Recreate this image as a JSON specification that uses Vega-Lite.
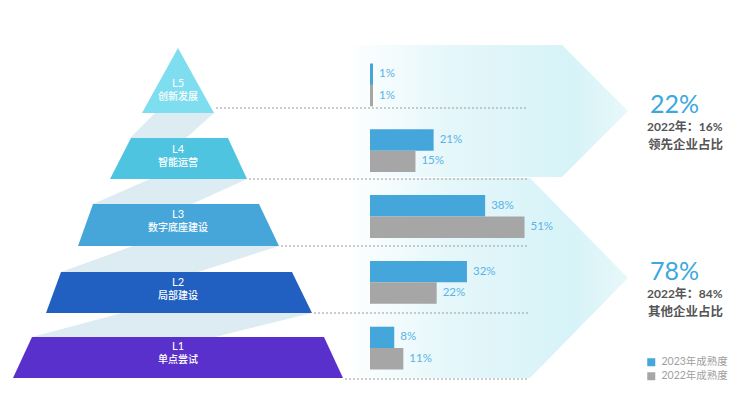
{
  "$schema": "https://vega.github.io/schema/vega-lite/v6.json",
  "width": 750,
  "height": 393,
  "padding": 0,
  "autosize": "none",
  "background": "#ffffff",
  "config": {"view": {"stroke": null}},
  "datasets": {
    "panels": [
      {"panel": "leader", "x": 346, "y": 45, "y2": 177},
      {"panel": "leader", "x": 562, "y": 45, "y2": 177},
      {"panel": "leader", "x": 628, "y": 111, "y2": 111},
      {"panel": "other", "x": 346, "y": 178, "y2": 378},
      {"panel": "other", "x": 530, "y": 178, "y2": 378},
      {"panel": "other", "x": 628, "y": 278, "y2": 278}
    ],
    "pyramid": [
      {"shape": "r54", "y": 113, "xl": 155, "xr": 214},
      {"shape": "r54", "y": 138, "xl": 130, "xr": 186},
      {"shape": "r43", "y": 179, "xl": 150, "xr": 247},
      {"shape": "r43", "y": 204, "xl": 93, "xr": 192},
      {"shape": "r32", "y": 246, "xl": 133, "xr": 279},
      {"shape": "r32", "y": 272, "xl": 61, "xr": 198},
      {"shape": "r21", "y": 313, "xl": 122, "xr": 312},
      {"shape": "r21", "y": 337, "xl": 32, "xr": 215},
      {"shape": "L5", "y": 48, "xl": 178, "xr": 178},
      {"shape": "L5", "y": 113, "xl": 142, "xr": 214},
      {"shape": "L4", "y": 138, "xl": 131, "xr": 228},
      {"shape": "L4", "y": 179, "xl": 110, "xr": 247},
      {"shape": "L3", "y": 204, "xl": 93, "xr": 259},
      {"shape": "L3", "y": 246, "xl": 78, "xr": 279},
      {"shape": "L2", "y": 272, "xl": 61, "xr": 292},
      {"shape": "L2", "y": 313, "xl": 46, "xr": 312},
      {"shape": "L1", "y": 337, "xl": 32, "xr": 324},
      {"shape": "L1", "y": 378, "xl": 13, "xr": 343}
    ],
    "dividers": [
      {"y": 108, "x": 216, "x2": 528},
      {"y": 179, "x": 249, "x2": 528},
      {"y": 246, "x": 281, "x2": 528},
      {"y": 313, "x": 314, "x2": 528},
      {"y": 379, "x": 345, "x2": 528}
    ],
    "levels": [
      {"level": "L5", "name": "创新发展", "cx": 178, "cy": 90},
      {"level": "L4", "name": "智能运营", "cx": 178, "cy": 156},
      {"level": "L3", "name": "数字底座建设", "cx": 178, "cy": 221.5},
      {"level": "L2", "name": "局部建设", "cx": 178, "cy": 289},
      {"level": "L1", "name": "单点尝试", "cx": 178, "cy": 353}
    ],
    "bars": [
      {"level": "L5", "year": "2023", "value": 0.01},
      {"level": "L5", "year": "2022", "value": 0.01},
      {"level": "L4", "year": "2023", "value": 0.21},
      {"level": "L4", "year": "2022", "value": 0.15},
      {"level": "L3", "year": "2023", "value": 0.38},
      {"level": "L3", "year": "2022", "value": 0.51},
      {"level": "L2", "year": "2023", "value": 0.32},
      {"level": "L2", "year": "2022", "value": 0.22},
      {"level": "L1", "year": "2023", "value": 0.08},
      {"level": "L1", "year": "2022", "value": 0.11}
    ],
    "callouts": [
      {"group": "领先企业占比", "pct": "22%", "prev": "2022年：16%", "x": 647, "y": 113},
      {"group": "其他企业占比", "pct": "78%", "prev": "2022年：84%", "x": 647, "y": 280}
    ]
  },
  "resolve": {"scale": {"x": "independent", "y": "independent", "color": "independent"}},
  "layer": [
    {
      "data": {"name": "panels"},
      "mark": {
        "type": "area",
        "orient": "vertical",
        "color": {
          "gradient": "linear", "x1": 0, "y1": 0, "x2": 1, "y2": 0,
          "stops": [
            {"offset": 0, "color": "#ffffff"},
            {"offset": 0.35, "color": "#E6F7FA"},
            {"offset": 0.8, "color": "#D6F3F8"},
            {"offset": 1, "color": "#E8F8FA"}
          ]
        }
      },
      "encoding": {
        "x": {"field": "x", "type": "quantitative", "axis": null, "scale": {"domain": [0, 750], "range": [0, 750], "zero": false, "nice": false}},
        "y": {"field": "y", "type": "quantitative", "axis": null, "scale": {"domain": [0, 393], "range": [0, 393], "zero": false, "nice": false}},
        "y2": {"field": "y2"},
        "detail": {"field": "panel"}
      }
    },
    {
      "data": {"name": "pyramid"},
      "mark": {"type": "area", "orient": "horizontal"},
      "encoding": {
        "y": {"field": "y", "type": "quantitative", "axis": null, "scale": {"domain": [0, 393], "range": [0, 393], "zero": false, "nice": false}},
        "x": {"field": "xl", "type": "quantitative", "axis": null, "scale": {"domain": [0, 750], "range": [0, 750], "zero": false, "nice": false}},
        "x2": {"field": "xr"},
        "color": {
          "field": "shape", "type": "nominal", "legend": null,
          "scale": {
            "domain": ["r54", "r43", "r32", "r21", "L5", "L4", "L3", "L2", "L1"],
            "range": ["#DDEBF2", "#DDEBF2", "#DDEBF2", "#DDEBF2", "#7EDDEE", "#4FC4E0", "#46A6DA", "#2160C0", "#5A30CD"]
          }
        }
      }
    },
    {
      "data": {"name": "dividers"},
      "mark": {"type": "rule", "color": "#9A9A9A", "strokeDash": [2, 2], "strokeWidth": 1},
      "encoding": {
        "y": {"field": "y", "type": "quantitative", "axis": null, "scale": {"domain": [0, 393], "range": [0, 393], "zero": false, "nice": false}},
        "x": {"field": "x", "type": "quantitative", "axis": null, "scale": {"domain": [0, 750], "range": [0, 750], "zero": false, "nice": false}},
        "x2": {"field": "x2"}
      }
    },
    {
      "data": {"name": "levels"},
      "mark": {"type": "text", "color": "#ffffff", "font": "Lato, Noto Sans CJK SC", "fontSize": 11, "dy": -6.5, "align": "center", "baseline": "middle"},
      "encoding": {
        "x": {"field": "cx", "type": "quantitative", "axis": null, "scale": {"domain": [0, 750], "range": [0, 750], "zero": false, "nice": false}},
        "y": {"field": "cy", "type": "quantitative", "axis": null, "scale": {"domain": [0, 393], "range": [0, 393], "zero": false, "nice": false}},
        "text": {"field": "level"}
      }
    },
    {
      "data": {"name": "levels"},
      "mark": {"type": "text", "color": "#ffffff", "font": "Noto Sans CJK SC", "fontSize": 10, "fontWeight": 500, "dy": 6.5, "align": "center", "baseline": "middle"},
      "encoding": {
        "x": {"field": "cx", "type": "quantitative", "axis": null, "scale": {"domain": [0, 750], "range": [0, 750], "zero": false, "nice": false}},
        "y": {"field": "cy", "type": "quantitative", "axis": null, "scale": {"domain": [0, 393], "range": [0, 393], "zero": false, "nice": false}},
        "text": {"field": "name"}
      }
    },
    {
      "data": {"name": "bars"},
      "layer": [
        {
          "mark": {"type": "bar"},
          "encoding": {
            "color": {
              "field": "year", "type": "nominal",
              "scale": {"domain": ["2023", "2022"], "range": ["#45A6DB", "#A6A6A6"]},
              "legend": {
                "orient": "none", "legendX": 646, "legendY": 357, "title": null,
                "symbolType": "square", "symbolSize": 64, "symbolStrokeWidth": 0,
                "labelFont": "Lato, Noto Sans CJK SC", "labelFontSize": 10.5, "labelColor": "#A0A0A0",
                "labelOffset": 5, "rowPadding": 3,
                "labelExpr": "datum.label + '年成熟度'"
              }
            }
          }
        },
        {
          "mark": {"type": "text", "align": "left", "baseline": "middle", "dx": 6, "color": "#5AB4E5", "font": "Lato", "fontSize": 11.5},
          "encoding": {"text": {"field": "value", "format": ".0%"}}
        }
      ],
      "encoding": {
        "x": {"field": "value", "type": "quantitative", "axis": null, "scale": {"domain": [0, 1], "range": [370, 673], "zero": true, "nice": false}},
        "y": {"field": "level", "type": "nominal", "axis": null, "scale": {"domain": ["L5", "L4", "L3", "L2", "L1"], "range": [52, 381], "paddingInner": 0.35, "paddingOuter": 0.175}},
        "yOffset": {"field": "year", "type": "nominal", "scale": {"domain": ["2023", "2022"]}}
      }
    },
    {
      "data": {"name": "callouts"},
      "mark": {"type": "text", "align": "left", "baseline": "alphabetic", "color": "#3BA8E0", "font": "Lato", "fontSize": 25, "dx": 3},
      "encoding": {
        "x": {"field": "x", "type": "quantitative", "axis": null, "scale": {"domain": [0, 750], "range": [0, 750], "zero": false, "nice": false}},
        "y": {"field": "y", "type": "quantitative", "axis": null, "scale": {"domain": [0, 393], "range": [0, 393], "zero": false, "nice": false}},
        "text": {"field": "pct"}
      }
    },
    {
      "data": {"name": "callouts"},
      "mark": {"type": "text", "align": "left", "baseline": "middle", "color": "#555555", "font": "Lato, Noto Sans CJK SC", "fontSize": 12, "fontWeight": "bold", "dy": 14},
      "encoding": {
        "x": {"field": "x", "type": "quantitative", "axis": null, "scale": {"domain": [0, 750], "range": [0, 750], "zero": false, "nice": false}},
        "y": {"field": "y", "type": "quantitative", "axis": null, "scale": {"domain": [0, 393], "range": [0, 393], "zero": false, "nice": false}},
        "text": {"field": "prev"}
      }
    },
    {
      "data": {"name": "callouts"},
      "mark": {"type": "text", "align": "left", "baseline": "middle", "color": "#555555", "font": "Noto Sans CJK SC", "fontSize": 12.5, "fontWeight": "bold", "dy": 32, "dx": 1},
      "encoding": {
        "x": {"field": "x", "type": "quantitative", "axis": null, "scale": {"domain": [0, 750], "range": [0, 750], "zero": false, "nice": false}},
        "y": {"field": "y", "type": "quantitative", "axis": null, "scale": {"domain": [0, 393], "range": [0, 393], "zero": false, "nice": false}},
        "text": {"field": "group"}
      }
    }
  ]
}
